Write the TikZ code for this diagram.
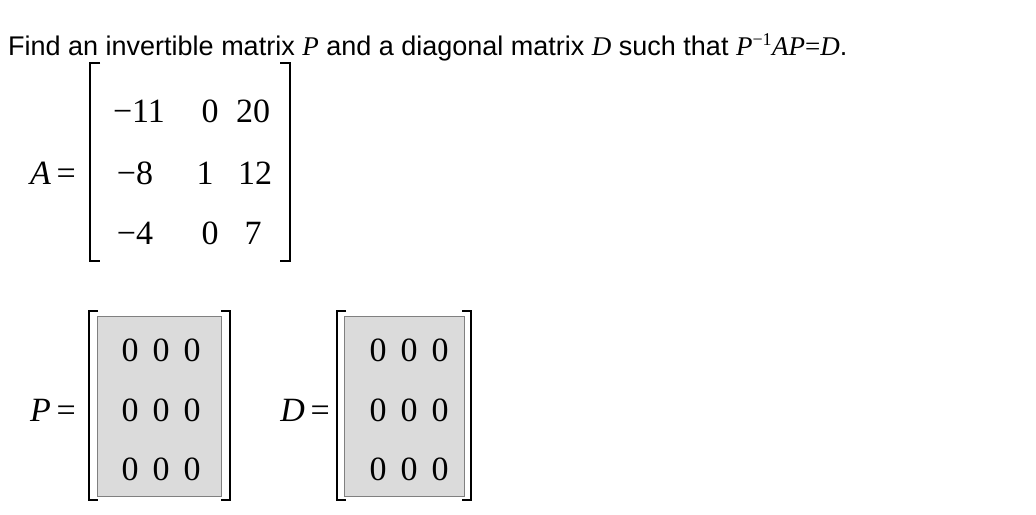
\documentclass[tikz,border=0pt]{standalone}
\usepackage{fontspec}
\setmainfont{Liberation Sans}
\newfontfamily\serf{Liberation Serif}
\begin{document}
\begin{tikzpicture}[x=1pt,y=-1pt,
  tx/.style={anchor=base west,inner sep=0pt,font=\fontsize{27}{30}\selectfont},
  ent/.style={anchor=base,inner sep=0pt,font=\fontsize{34}{38}\selectfont\serf},
  lbl/.style={anchor=base east,inner sep=0pt,font=\fontsize{34}{38}\selectfont\serf},
  brk/.style={line width=1.8pt},
  box/.style={fill=black!14,draw=black!50,line width=0.6pt}]
\useasboundingbox (0,0) rectangle (1036,514);
\node[tx] (title) at (8,55) {Find an invertible matrix {\serf\itshape P} and a diagonal matrix {\serf\itshape D} such that {\serf\itshape P}$^{\raisebox{0pt}{\fontsize{18}{20}\selectfont\serf −1}}${\serf\itshape AP}{\serf =}{\serf\itshape D}.};
% A
\node[lbl] (Al) at (76,184) {\itshape A\,\upshape =};
\draw[brk] (100,63) -- (90,63) -- (90,261) -- (100,261);
\draw[brk] (280,63) -- (290,63) -- (290,261) -- (280,261);
\node[ent] (a11) at (139,122) {−11}; \node[ent] (a12) at (210,122) {0}; \node[ent] (a13) at (253,122) {20};
\node[ent] (a21) at (135,184) {−8}; \node[ent] (a22) at (205,184) {1}; \node[ent] (a23) at (255,184) {12};
\node[ent] (a31) at (135,244) {−4}; \node[ent] (a32) at (210,244) {0}; \node[ent] (a33) at (253,244) {7};
% P
\node[lbl] (Pl) at (76,421) {\itshape P\,\upshape =};
\draw[box] (97,316) rectangle (221,496);
\draw[brk] (98,311) -- (89,311) -- (89,500) -- (98,500);
\draw[brk] (221,311) -- (230,311) -- (230,500) -- (221,500);
\foreach \r/\y in {1/361,2/421,3/480}{
  \node[ent] (p\r1) at (130,\y) {0}; \node[ent] (p\r2) at (161,\y) {0}; \node[ent] (p\r3) at (192,\y) {0};}
% D
\node[lbl] (Dl) at (330,421) {\itshape D\,\upshape =};
\draw[box] (344,316) rectangle (464,496);
\draw[brk] (346,311) -- (337,311) -- (337,500) -- (346,500);
\draw[brk] (462,311) -- (471,311) -- (471,500) -- (462,500);
\foreach \r/\y in {1/361,2/421,3/480}{
  \node[ent] (d\r1) at (378,\y) {0}; \node[ent] (d\r2) at (409,\y) {0}; \node[ent] (d\r3) at (440,\y) {0};}
\end{tikzpicture}
\end{document}
